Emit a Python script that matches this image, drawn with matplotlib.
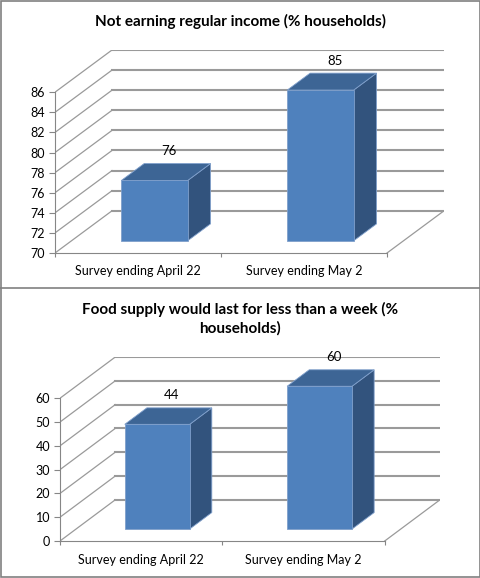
import numpy as np
import matplotlib.pyplot as plt
from matplotlib.patches import Polygon, Rectangle
from matplotlib.lines import Line2D

plt.rcParams['font.family'] = ['Lato', 'DejaVu Sans']

categories = ["Survey ending April 22", "Survey ending May 2"]
income_vals = [76, 85]
food_vals = [44, 60]
income_ticks = list(range(70, 87, 2))
food_ticks = list(range(0, 61, 10))

W, H = 481, 578
fig = plt.figure(figsize=(W / 100, H / 100), dpi=100)

FRONT = "#4F81BD"
TOP = "#3D6595"
SIDE = "#32537D"
EDGE = "#7F9FCB"
GRID = "#9A9A9A"
AXC = "#868686"

# outer frame and divider between the two charts
fig.add_artist(Rectangle((0.5 / W, 1 - 576.5 / H), 480 / W, 576 / H, transform=fig.transFigure,
                         fill=False, edgecolor="#808080", lw=1.2))
fig.add_artist(Line2D([0, 480.5 / W], [1 - 288 / H] * 2, transform=fig.transFigure,
                      color="#808080", lw=1.2))


def chart(rect, vals, ticks, dx, dy, title, title_y):
    ax = fig.add_axes(rect)
    ymin, ymax = ticks[0], ticks[-1]
    ax.set_xlim(0, len(vals) + dx)
    ax.set_ylim(ymin, ymax + dy)
    for s in ["top", "right"]:
        ax.spines[s].set_visible(False)
    ax.spines["left"].set_bounds(ymin, ymax)
    ax.spines["bottom"].set_bounds(0, len(vals))
    ax.spines["left"].set_color(AXC)
    ax.spines["bottom"].set_color(AXC)
    ax.set_yticks(ticks)
    ax.tick_params(axis="y", length=4, color=AXC, labelsize=9, pad=3)
    ax.set_xticks(range(len(vals) + 1))
    ax.set_xticklabels([])
    ax.set_xticks(np.arange(len(vals)) + 0.5, minor=True)
    ax.set_xticklabels(categories, minor=True)
    ax.tick_params(axis="x", which="major", length=3, color=AXC)
    ax.tick_params(axis="x", which="minor", length=0, labelsize=9, pad=9)

    # side wall and back wall gridlines
    for t in ticks:
        ax.plot([0, dx], [t, t + dy], color=GRID, lw=0.9, zorder=1)
        ax.plot([dx, len(vals) + dx], [t + dy, t + dy], color=GRID, lw=1.5, zorder=1)
    # floor right edge
    ax.plot([len(vals), len(vals) + dx], [ymin, ymin + dy], color=GRID, lw=0.9, zorder=1)

    d0, d1 = 0.29, 0.69
    hw = 0.2
    for i, v in enumerate(vals):
        c = i + 0.5
        xl, xr = c - hw, c + hw
        side = [(xr + d0 * dx, ymin + d0 * dy), (xr + d1 * dx, ymin + d1 * dy),
                (xr + d1 * dx, v + d1 * dy), (xr + d0 * dx, v + d0 * dy)]
        top = [(xl + d0 * dx, v + d0 * dy), (xr + d0 * dx, v + d0 * dy),
               (xr + d1 * dx, v + d1 * dy), (xl + d1 * dx, v + d1 * dy)]
        front = [(xl + d0 * dx, ymin + d0 * dy), (xr + d0 * dx, ymin + d0 * dy),
                 (xr + d0 * dx, v + d0 * dy), (xl + d0 * dx, v + d0 * dy)]
        ax.add_patch(Polygon(side, closed=True, facecolor=SIDE, edgecolor=EDGE, lw=0.6, zorder=3))
        ax.add_patch(Polygon(top, closed=True, facecolor=TOP, edgecolor=EDGE, lw=0.6, zorder=3))
        ax.add_patch(Polygon(front, closed=True, facecolor=FRONT, edgecolor=EDGE, lw=0.6, zorder=4))
        ax.annotate(str(v), (c + 0.55 * dx, v + d1 * dy), xytext=(0, 9), textcoords="offset points",
                    ha="center", va="center", fontsize=9.5, zorder=5)

    fig.text(0.5, title_y, title, ha="center", va="center", fontsize=11,
             fontweight="bold", linespacing=1.35)
    return ax


# top chart: front axis x 55..444 px, y 50..253 px
chart([55 / W, 1 - 253 / H, (444 - 55) / W, (253 - 50) / H], income_vals, income_ticks,
      57 / 166, 4.2, "Not earning regular income (% households)", 1 - 21 / H)

# bottom chart: front axis x 60..440 px, y 357..541 px
chart([60 / W, 1 - 541 / H, (440 - 60) / W, (541 - 357) / H], food_vals, food_ticks,
      55 / 161.5, 41 / 2.367, "Food supply would last for less than a week (%\nhouseholds)", 1 - 319 / H)

fig.savefig("out.png", dpi=100)
